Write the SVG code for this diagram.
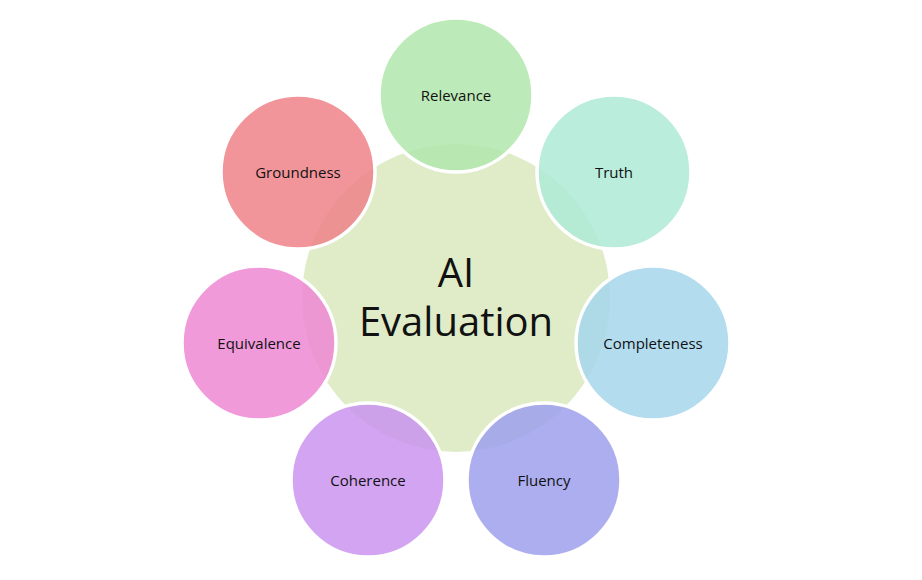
<svg xmlns="http://www.w3.org/2000/svg" width="922" height="580" viewBox="0 0 922 580">
<style>
.n{stroke:#fff;stroke-width:3.5;fill-opacity:0.85}
text{font-family:"Open Sans","DejaVu Sans",sans-serif;text-anchor:middle;dominant-baseline:central;fill:#111}
.l{font-size:15px}
.c{font-size:40px}
</style>
<rect width="922" height="580" fill="#fff"/>
<g id="center"><circle cx="456" cy="298" r="154" fill="#dfecc7"/><text class="c" x="456" y="271">AI</text><text class="c" x="456" y="320">Evaluation</text></g>
<g id="connectors"></g>
<g id="relevance"><circle class="n" cx="456" cy="95" r="77" fill="#b1e6ad"/><text class="l" x="456" y="95">Relevance</text></g>
<g id="truth"><circle class="n" cx="614" cy="172" r="77" fill="#aeead6"/><text class="l" x="614" y="172">Truth</text></g>
<g id="completeness"><circle class="n" cx="653" cy="343" r="77" fill="#a6d6ec"/><text class="l" x="653" y="343">Completeness</text></g>
<g id="fluency"><circle class="n" cx="544" cy="480" r="77" fill="#9ea0ec"/><text class="l" x="544" y="480">Fluency</text></g>
<g id="coherence"><circle class="n" cx="368" cy="480" r="77" fill="#ca94ee"/><text class="l" x="368" y="480">Coherence</text></g>
<g id="equivalence"><circle class="n" cx="259" cy="343" r="77" fill="#ee88d4"/><text class="l" x="259" y="343">Equivalence</text></g>
<g id="groundness"><circle class="n" cx="298" cy="172" r="77" fill="#f08288"/><text class="l" x="298" y="172">Groundness</text></g>
</svg>
